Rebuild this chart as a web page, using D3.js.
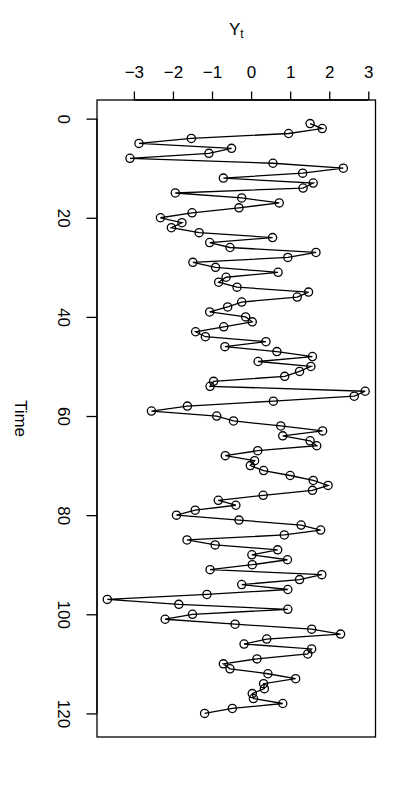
<!DOCTYPE html>
<html>
<head>
<meta charset="utf-8">
<script src="https://cdn.jsdelivr.net/npm/d3@7"></script>
<style>
  body{margin:0;background:#fff;}
  svg text{font-family:"Liberation Sans",Arial,Helvetica,sans-serif;fill:#000;}
</style>
</head>
<body>
<div id="chart"></div>
<script>
// time index 1..120 and the series
const timeStart=1;
const yValues=[
  1.51,1.82,0.96,-1.53,-2.87,-0.50,-1.08,-3.10,0.56,2.36,
  1.32,-0.71,1.59,1.33,-1.94,-0.24,0.72,-0.31,-1.51,-2.32,
  -1.77,-2.04,-1.33,0.55,-1.06,-0.54,1.66,0.94,-1.49,-0.91,
  0.69,-0.64,-0.83,-0.36,1.47,1.18,-0.24,-0.60,-1.06,-0.14,
  0.03,-0.70,-1.42,-1.17,0.38,-0.67,0.66,1.57,0.18,1.53,
  1.24,0.86,-0.96,-1.05,2.92,2.64,0.57,-1.63,-2.55,-0.88,
  -0.45,0.76,1.83,0.81,1.51,1.68,0.17,-0.66,0.09,-0.02,
  0.32,1.00,1.59,1.97,1.57,0.31,-0.84,-0.39,-1.43,-1.91,
  -0.31,1.28,1.78,0.85,-1.64,-0.92,0.68,0.02,0.93,0.03,
  -1.05,1.81,1.24,-0.24,0.94,-1.13,-3.68,-1.85,0.94,-1.50,
  -2.20,-0.41,1.55,2.29,0.40,-0.18,1.55,1.45,0.15,-0.71,
  -0.54,0.43,1.14,0.32,0.34,0.03,0.06,0.81,-0.48,-1.19
];
const valueTicks=[-3,-2,-1,0,1,2,3];
const timeTicks=[0,20,40,60,80,100,120];
const valueLabel="Y";
const valueSub="t";
const timeLabel="Time";

const width=406, height=810;
const box={left:97,right:375.5,top:100,bottom:737};

const data=yValues.map((v,i)=>({t:timeStart+i,v:v}));

// R style 4% padding on both scales
function pad(ext){
  const r=ext[1]-ext[0];
  return [ext[0]-0.04*r,ext[1]+0.04*r];
}

const xScale=d3.scaleLinear()
  .domain(pad(d3.extent(data,d=>d.v)))
  .range([box.left,box.right]);
const yScale=d3.scaleLinear()
  .domain(pad(d3.extent(data,d=>d.t)))
  .range([box.top,box.bottom]);

const svg=d3.select("#chart").append("svg")
  .attr("width",width)
  .attr("height",height);

// top axis (values)
const xAxis=d3.axisTop(xScale)
  .tickValues(valueTicks)
  .tickSize(8.5)
  .tickSizeOuter(0)
  .tickPadding(13.5);
const gx=svg.append("g")
  .attr("transform","translate(0,"+box.top+")")
  .call(xAxis);
gx.select(".domain")
  .attr("d","M"+xScale(valueTicks[0])+",0H"+xScale(valueTicks[valueTicks.length-1]))
  .attr("stroke","#000").attr("stroke-width",1.3);
gx.selectAll(".tick line").attr("stroke","#000").attr("stroke-width",1.3);
gx.selectAll(".tick text")
  .attr("font-size","17px")
  .attr("font-family","Liberation Sans, Arial, sans-serif")
  .attr("fill","#000");

// left axis (time), labels turned clockwise
const yAxis=d3.axisLeft(yScale)
  .tickValues(timeTicks)
  .tickSize(10.5)
  .tickSizeOuter(0);
const gy=svg.append("g")
  .attr("transform","translate("+box.left+",0)")
  .call(yAxis);
gy.select(".domain")
  .attr("d","M0,"+yScale(timeTicks[0])+"V"+yScale(timeTicks[timeTicks.length-1]))
  .attr("stroke","#000").attr("stroke-width",1.3);
gy.selectAll(".tick line").attr("stroke","#000").attr("stroke-width",1.3);
gy.selectAll(".tick text")
  .attr("x",null).attr("dy",null)
  .attr("text-anchor","middle")
  .attr("font-size","17px")
  .attr("font-family","Liberation Sans, Arial, sans-serif")
  .attr("fill","#000")
  .attr("transform","translate("+(58-box.left)+",0) rotate(90)");

// box
svg.append("rect")
  .attr("x",box.left).attr("y",box.top)
  .attr("width",box.right-box.left)
  .attr("height",box.bottom-box.top)
  .attr("fill","none")
  .attr("stroke","#000")
  .attr("stroke-width",1.3);

// series line + open circles
const line=d3.line()
  .x(d=>xScale(d.v))
  .y(d=>yScale(d.t));
svg.append("path")
  .datum(data)
  .attr("d",line)
  .attr("fill","none")
  .attr("stroke","#000")
  .attr("stroke-width",1.3);
svg.append("g")
  .selectAll("circle")
  .data(data)
  .enter()
  .append("circle")
  .attr("cx",d=>xScale(d.v))
  .attr("cy",d=>yScale(d.t))
  .attr("r",4.1)
  .attr("fill","none")
  .attr("stroke","#000")
  .attr("stroke-width",1.3);

// axis titles
const yt=svg.append("text")
  .attr("x",(box.left+box.right)/2)
  .attr("y",34.5)
  .attr("text-anchor","middle")
  .attr("font-size","17px");
yt.append("tspan").text(valueLabel);
yt.append("tspan").attr("font-size","12px").attr("dy",3).text(valueSub);

svg.append("text")
  .attr("text-anchor","middle")
  .attr("font-size","17px")
  .attr("transform","translate(15,"+((box.top+box.bottom)/2)+") rotate(90)")
  .text(timeLabel);
</script>
</body>
</html>
